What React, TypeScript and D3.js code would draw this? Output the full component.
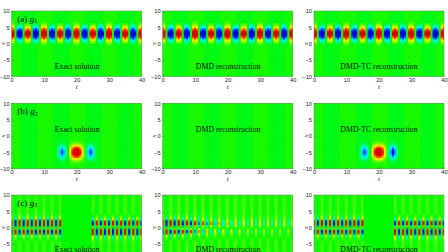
import React, { useEffect, useRef } from 'react';
import * as d3 from 'd3';

const panelWidth = 130;
const panelHeight = 65.5;
const columnLefts = [11.7, 162.7, 314];
const rowTops = [11, 103.3, 195];

const tTicks = [0, 10, 20, 30, 40];
const xTicks = [-10, -5, 0, 5, 10];
const rowLabels = ['(a) ', '(b) ', '(c) '];
const rowSymbols = ['1', '2', '3'];
const columnTitles = ['Exact solution', 'DMD reconstruction', 'DMD-TC reconstruction'];

// samples along t every 0.625, from 0 to 40
const tSamples = d3.range(0, 65).map((i) => i * 0.625);
// samples along x every 0.5, from 10 down to -10
const xSamples = d3.range(0, 41).map((i) => 10 - i * 0.5);

const g1Profile = [
  0, 0, 0, 0, 0, 0, 0,
  0.05, 0.12, 0.26, 0.42, 0.62, 0.82, 1.05, 1.2, 1.05, 0.82, 0.62, 0.42, 0.26, 0.12, 0.05,
  0, 0, 0, 0, 0, 0, 0, 0, 0, 0, 0, 0, 0, 0, 0, 0, 0, 0, 0
];
const g2Profile = [
  0, 0, 0, 0, 0, 0, 0, 0, 0, 0, 0, 0, 0, 0, 0, 0, 0, 0, 0, 0, 0, 0, 0,
  0.02, 0.08, 0.2, 0.38, 0.6, 0.8, 0.95, 1, 0.95, 0.8, 0.6, 0.38, 0.2, 0.08, 0.02,
  0, 0, 0
];
const g3Profile = [
  0, 0, 0, 0, 0, 0, 0, 0, 0, 0, 0, 0,
  0.06, 0.14, 0.26, 0.42, 0.68, 0.95, 1, 0.6, 0, -0.6, -1, -0.95, -0.68, -0.42, -0.26, -0.14, -0.06,
  0, 0, 0, 0, 0, 0, 0, 0, 0, 0, 0, 0
];

const g1Wave = [
  1.35, 1.05, 0, -1.05, -1.35, -1.05, 0, 1.05, 1.35, 1.05, 0, -1.05, -1.35, -1.05, 0, 1.05,
  1.35, 1.05, 0, -1.05, -1.35, -1.05, 0, 1.05, 1.35, 1.05, 0, -1.05, -1.35, -1.05, 0, 1.05,
  1.35, 1.05, 0, -1.05, -1.35, -1.05, 0, 1.05, 1.35, 1.05, 0, -1.05, -1.35, -1.05, 0, 1.05,
  1.35, 1.05, 0, -1.05, -1.35, -1.05, 0, 1.05, 1.35, 1.05, 0, -1.05, -1.35, -1.05, 0, 1.05,
  1.35
];
const g2Exact = [
  0, 0, 0, 0, 0, 0, 0, 0, 0, 0, 0, 0, 0, 0, 0, 0, 0, 0, 0, 0, 0, 0, 0,
  -0.25, -0.6, -0.85, -0.6, -0.25, 0.08, 0.5, 0.95, 1.25, 1.4, 1.25, 0.95, 0.5, 0.08, -0.25, -0.6, -0.85, -0.6, -0.25,
  0, 0, 0, 0, 0, 0, 0, 0, 0, 0, 0, 0, 0, 0, 0, 0, 0, 0, 0, 0, 0, 0, 0
];
const g2Dmd = [
  0, 0, 0, 0, 0, 0, 0, 0, 0, 0, 0, 0, 0, 0, 0, 0, 0, 0, 0, 0, 0, 0, 0,
  0, 0, 0, 0, 0, 0, 0, 0, 0, 0, 0, 0, 0, 0, 0, 0, 0, 0, 0,
  0, 0, 0, 0, 0, 0, 0, 0, 0, 0, 0, 0, 0, 0, 0, 0, 0, 0, 0, 0, 0, 0, 0
];
const g2Tc = [
  0, 0, 0, 0, 0, 0, 0, 0, 0, 0, 0, 0, 0, 0, 0, 0, 0, 0, 0, 0, 0, 0, 0,
  -0.25, -0.6, -0.85, -0.6, -0.25, 0.08, 0.5, 0.95, 1.25, 1.4, 1.25, 0.95, 0.5, 0.08, -0.3, -0.68, -1, -0.68, -0.3,
  0, 0, 0, 0, 0, 0, 0, 0, 0, 0, 0, 0, 0, 0, 0, 0, 0, 0, 0, 0, 0, 0, 0
];
const g3Exact = [
  1.4, 0, -1.4, 0, 1.4, 0, -1.4, 0, 1.4, 0, -1.4, 0, 1.4, 0, -1.4, 0, 1.4, 0, -1.4, 0, 1.4, 0, -1.4, 0, 1.4,
  0, 0, 0, 0, 0, 0, 0, 0, 0, 0, 0, 0, 0, 0, 0,
  -1.4, 0, 1.4, 0, -1.4, 0, 1.4, 0, -1.4, 0, 1.4, 0, -1.4, 0, 1.4, 0, -1.4, 0, 1.4, 0, -1.4, 0, 1.4, 0, -1.4
];
const g3Dmd = [
  1.4, 0, -1.4, 0, 1.3, 0, -1.25, 0, 1.2, 0, -1.15, 0, 1.1, 0, -1, 0, 0.9, 0, -0.8, 0, 0.75, 0, -0.7, 0, 0.65,
  0, -0.6, 0, 0.55, 0, -0.5, 0, 0.48, 0, -0.46, 0, 0.44, 0, -0.44, 0,
  0.42, 0, -0.42, 0, 0.42, 0, -0.4, 0, 0.4, 0, -0.4, 0, 0.38, 0, -0.38, 0, 0.38, 0, -0.38, 0, 0.36, 0, -0.36, 0, 0.36
];
const g3Tc = [
  1.3, 0, -1.3, 0, 1.3, 0, -1.3, 0, 1.3, 0, -1.3, 0, 1.3, 0, -1.3, 0, 1.3, 0, -1.3, 0, 1.3, 0, -1.3, 0, 1.3,
  0, 0, 0, 0, 0, 0, 0, 0, 0, 0, 0, 0, 0, 0, 0,
  -1.3, 0, 1.3, 0, -1.3, 0, 1.3, 0, -1.3, 0, 1.3, 0, -1.3, 0, 1.3, 0, -1.3, 0, 1.3, 0, -1.3, 0, 1.3, 0, -1.3
];

// background stripes, each band spans 2.5 in t
const wideBandsA = [0.05, -0.04, -0.04, 0.05, 0.05, -0.04, -0.04, 0.05, 0.05, -0.04, -0.04, 0.05, 0.05, -0.04, -0.04, 0.05];
// fine stripes, one value per t sample
const g3Stripes = [
  0.14, 0.06, -0.04, 0.06, 0.14, 0.06, -0.04, 0.06, 0.14, 0.06, -0.04, 0.06, 0.14, 0.06, -0.04, 0.06,
  0.14, 0.06, -0.04, 0.06, 0.14, 0.06, -0.04, 0.06, 0.14,
  0, 0, 0, 0, 0, 0, 0, 0, 0, 0, 0, 0, 0, 0, 0,
  0.14, 0.06, -0.04, 0.06, 0.14, 0.06, -0.04, 0.06, 0.14, 0.06, -0.04, 0.06, 0.14, 0.06, -0.04, 0.06,
  0.14, 0.06, -0.04, 0.06, 0.14, 0.06, -0.04, 0.06, 0.14
];
const g3DmdStripes = [
  0.16, 0.06, -0.04, 0.06, 0.16, 0.06, -0.04, 0.06, 0.16, 0.06, -0.04, 0.06, 0.16, 0.06, -0.04, 0.06,
  0.16, 0.06, -0.04, 0.06, 0.16, 0.06, -0.04, 0.06, 0.16, 0.06, -0.04, 0.06, 0.16, 0.06, -0.04, 0.06,
  0.16, 0.06, -0.04, 0.06, 0.16, 0.06, -0.04, 0.06, 0.16, 0.06, -0.04, 0.06, 0.16, 0.06, -0.04, 0.06,
  0.16, 0.06, -0.04, 0.06, 0.16, 0.06, -0.04, 0.06, 0.16, 0.06, -0.04, 0.06, 0.16, 0.06, -0.04, 0.06,
  0.16
];

const panelProfiles = [g1Profile, g2Profile, g3Profile];
const panelWaves = [
  [g1Wave, g1Wave, g1Wave],
  [g2Exact, g2Dmd, g2Tc],
  [g3Exact, g3Dmd, g3Tc]
];
const panelBands = [
  [wideBandsA, wideBandsA, wideBandsA],
  [wideBandsA, wideBandsA, wideBandsA],
  [g3Stripes, g3DmdStripes, g3Stripes]
];

const color = d3
  .scaleLinear<string>()
  .domain([-1.2, -1, -0.5, 0, 0.5, 1, 1.2])
  .range(['#0000d8', '#0000ff', '#00ffff', '#00f800', '#ffff00', '#ff0000', '#d80000'])
  .clamp(true);

function Panel({ row, col }: { row: number; col: number }) {
  const bottomRef = useRef<SVGGElement>(null);
  const leftRef = useRef<SVGGElement>(null);

  const x = d3.scaleLinear().domain([0, 40]).range([0, panelWidth]);
  const y = d3.scaleLinear().domain([10, -10]).range([0, panelHeight]);

  const profile = panelProfiles[row];
  const wave = panelWaves[row][col];
  const bands = panelBands[row][col];
  const cellW = x(0.625) - x(0) + 0.4;
  const cellH = y(9.5) - y(10) + 0.4;
  // the lowest row runs past the bottom of the picture
  const onCanvas = row < 2;

  useEffect(() => {
    const axisBottom = d3.axisBottom(x).tickValues(tTicks).tickSize(-1.5).tickPadding(1.5);
    const axisLeft = d3
      .axisLeft(y)
      .tickValues(onCanvas ? xTicks : xTicks.slice(1))
      .tickSize(-1.5)
      .tickPadding(2);
    for (const ref of [bottomRef, leftRef]) {
      if (!ref.current) continue;
      const g = d3.select(ref.current);
      g.call(ref === bottomRef ? axisBottom : axisLeft);
      g.select('.domain').remove();
      g.selectAll('line').attr('stroke', '#333').attr('stroke-width', 0.4);
      g.selectAll('text')
        .attr('font-family', '"Liberation Sans", sans-serif')
        .attr('font-size', 5.7)
        .attr('fill', '#222');
    }
  }, []);

  const clipId = `clip-${row}-${col}`;
  const titleX = panelWidth / 2 + [0.5, 0.5, 0][col];
  const titleY = [58, 28.5, 56.7][row];

  return (
    <g transform={`translate(${columnLefts[col]},${rowTops[row]})`}>
      <clipPath id={clipId}>
        <rect width={panelWidth} height={panelHeight} />
      </clipPath>
      <g clipPath={`url(#${clipId})`}>
        <rect width={panelWidth} height={panelHeight} fill={color(0)} />
        <g filter="url(#soften)">
          {tSamples.map((t, i) =>
            xSamples.map((v, j) => (
              <rect
                key={`${i}-${j}`}
                x={x(t) - cellW / 2}
                y={y(v) - cellH / 2}
                width={cellW}
                height={cellH}
                fill={color(
                  wave[i] * profile[j] +
                    bands[Math.min(bands.length - 1, Math.floor((i * bands.length) / tSamples.length))]
                )}
              />
            ))
          )}
        </g>
      </g>
      <rect width={panelWidth} height={panelHeight} fill="none" stroke="#5c8a5c" strokeWidth={0.5} />
      {onCanvas && <g ref={bottomRef} transform={`translate(0,${panelHeight})`} />}
      <g ref={leftRef} />
      {onCanvas && (
        <text
          x={panelWidth / 2}
          y={panelHeight + 12}
          textAnchor="middle"
          fontFamily='"Liberation Serif", serif'
          fontStyle="italic"
          fontSize={7}
          fill="#222"
        >
          t
        </text>
      )}
      <text
        transform={`translate(-6.5,${panelHeight / 2}) rotate(-90)`}
        textAnchor="middle"
        fontFamily='"Liberation Serif", serif'
        fontStyle="italic"
        fontSize={7}
        fill="#222"
      >
        x
      </text>
      <text
        x={titleX}
        y={titleY}
        textAnchor="middle"
        fontFamily='"Liberation Serif", serif'
        fontSize={7.8}
        fill="#111"
      >
        {columnTitles[col]}
      </text>
      {col === 0 && (
        <text x={5.5} y={10.5} fontFamily='"Liberation Serif", serif' fontSize={9.2} fill="#111">
          {rowLabels[row]}
          <tspan fontStyle="italic">g</tspan>
          <tspan fontSize={6} dy={1.8}>
            {rowSymbols[row]}
          </tspan>
        </text>
      )}
    </g>
  );
}

export default function App() {
  return (
    <svg
      width={448}
      height={252}
      style={{ position: 'absolute', left: 0, top: 0, display: 'block', background: '#fff' }}
    >
      <defs>
        <filter id="soften" x="-5%" y="-5%" width="110%" height="110%">
          <feGaussianBlur stdDeviation="0.65" />
        </filter>
      </defs>
      {rowTops.map((_, row) =>
        columnLefts.map((_, col) => <Panel key={`${row}-${col}`} row={row} col={col} />)
      )}
    </svg>
  );
}
